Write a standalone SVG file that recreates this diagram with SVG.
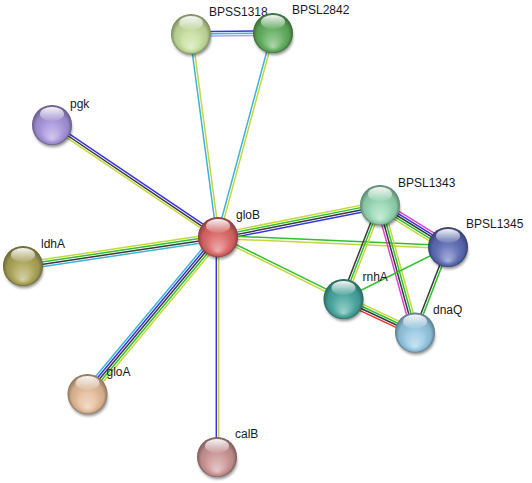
<svg xmlns="http://www.w3.org/2000/svg" width="532" height="483" viewBox="0 0 532 483">
<style>
.tm{stroke:#c5d83a}.nb{stroke:#2fbf2f}.cx{stroke:#3a3a3a}.db{stroke:#3cb4dc}.ex{stroke:#d846d8}.co{stroke:#3434e6}.fu{stroke:#e83434}.ho{stroke:#a8a8f4}
#edges line{stroke-width:1.5;fill:none}
.sh{fill:#000;opacity:.45;filter:url(#blur)}
.sd{fill:url(#shade)}
.hl{fill:url(#hlg)}
text{font-family:"Liberation Sans",Arial,sans-serif;font-size:12px;fill:#1a1a1a}
</style>
<defs>
<filter id="blur" x="-50%" y="-50%" width="200%" height="200%"><feGaussianBlur stdDeviation="1.8"/></filter>
<radialGradient id="shade" cx="50%" cy="50%" r="50%" fx="50%" fy="85%">
<stop offset="0" stop-color="#fff" stop-opacity="0.5"/>
<stop offset="0.45" stop-color="#fff" stop-opacity="0.12"/>
<stop offset="0.8" stop-color="#000" stop-opacity="0.08"/>
<stop offset="1" stop-color="#000" stop-opacity="0.38"/>
</radialGradient>
<linearGradient id="hlg" x1="0" y1="0" x2="0" y2="1">
<stop offset="0" stop-color="#fff" stop-opacity="0.95"/>
<stop offset="1" stop-color="#fff" stop-opacity="0.08"/>
</linearGradient>
</defs>
<g id="edges">
<g transform="translate(191,34) rotate(-0.7)"><line class="co" x1="0" y1="-2.3" x2="82" y2="-2.3"/><line class="db" x1="0" y1="0" x2="82" y2="0"/><line class="ho" x1="0" y1="2.3" x2="82" y2="2.3"/></g>
<g transform="translate(191,34) rotate(82.42)"><line class="db" x1="0" y1="1.2" x2="204.8" y2="1.2"/><line class="tm" x1="0" y1="-1.2" x2="204.8" y2="-1.2"/></g>
<g transform="translate(273,33) rotate(105.09)"><line class="db" x1="0" y1="1.2" x2="211.3" y2="1.2"/><line class="tm" x1="0" y1="-1.2" x2="211.3" y2="-1.2"/></g>
<g transform="translate(52,125) rotate(34)"><line class="co" x1="0" y1="-2.3" x2="200.3" y2="-2.3"/><line class="cx" x1="0" y1="0" x2="200.3" y2="0"/><line class="tm" x1="0" y1="2.3" x2="200.3" y2="2.3"/></g>
<g transform="translate(23,266) rotate(-8.46)"><line class="tm" x1="0" y1="-3.45" x2="197.1" y2="-3.45"/><line class="nb" x1="0" y1="-1.15" x2="197.1" y2="-1.15"/><line class="cx" x1="0" y1="1.15" x2="197.1" y2="1.15"/><line class="db" x1="0" y1="3.45" x2="197.1" y2="3.45"/></g>
<g transform="translate(87,394) rotate(-50.16)"><line class="db" x1="0" y1="-4.6" x2="204.5" y2="-4.6"/><line class="co" x1="0" y1="-2.3" x2="204.5" y2="-2.3"/><line class="cx" x1="0" y1="0" x2="204.5" y2="0"/><line class="nb" x1="0" y1="2.3" x2="204.5" y2="2.3"/><line class="tm" x1="0" y1="4.6" x2="204.5" y2="4.6"/></g>
<g><line class="co" x1="216.3" y1="237" x2="216.3" y2="457"/><line class="tm" x1="218.7" y1="237" x2="218.7" y2="457"/></g>
<g transform="translate(218,237) rotate(-11.17)"><line class="tm" x1="0" y1="-3.45" x2="165.1" y2="-3.45"/><line class="nb" x1="0" y1="-1.15" x2="165.1" y2="-1.15"/><line class="cx" x1="0" y1="1.15" x2="165.1" y2="1.15"/><line class="co" x1="0" y1="3.45" x2="165.1" y2="3.45"/></g>
<g transform="translate(218,237) rotate(2.49)"><line class="nb" x1="0" y1="-1.5" x2="230.2" y2="-1.5"/><line class="tm" x1="0" y1="1.5" x2="230.2" y2="1.5"/></g>
<g transform="translate(218,237) rotate(26.29)"><line class="nb" x1="0" y1="-1.2" x2="140" y2="-1.2"/><line class="tm" x1="0" y1="1.2" x2="140" y2="1.2"/></g>
<g transform="translate(380,205) rotate(31.7)"><line class="ex" x1="0" y1="-4.6" x2="79.9" y2="-4.6"/><line class="co" x1="0" y1="-2.3" x2="79.9" y2="-2.3"/><line class="cx" x1="0" y1="0" x2="79.9" y2="0"/><line class="nb" x1="0" y1="2.3" x2="79.9" y2="2.3"/><line class="tm" x1="0" y1="4.6" x2="79.9" y2="4.6"/></g>
<g transform="translate(380,205) rotate(111.22)"><line class="cx" x1="0" y1="2.3" x2="100.8" y2="2.3"/><line class="nb" x1="0" y1="0" x2="100.8" y2="0"/><line class="tm" x1="0" y1="-2.3" x2="100.8" y2="-2.3"/></g>
<g transform="translate(380,205) rotate(74.65)"><line class="ex" x1="0" y1="3.45" x2="132.2" y2="3.45"/><line class="cx" x1="0" y1="1.15" x2="132.2" y2="1.15"/><line class="nb" x1="0" y1="-1.15" x2="132.2" y2="-1.15"/><line class="tm" x1="0" y1="-3.45" x2="132.2" y2="-3.45"/></g>
<g><line class="nb" x1="448" y1="247" x2="343.5" y2="299"/></g>
<g transform="translate(448,247) rotate(111.1)"><line class="cx" x1="0" y1="1.2" x2="91.6" y2="1.2"/><line class="nb" x1="0" y1="-1.2" x2="91.6" y2="-1.2"/></g>
<g transform="translate(343.5,299) rotate(25.1)"><line class="fu" x1="0" y1="3.45" x2="79" y2="3.45"/><line class="cx" x1="0" y1="1.15" x2="79" y2="1.15"/><line class="nb" x1="0" y1="-1.15" x2="79" y2="-1.15"/><line class="tm" x1="0" y1="-3.45" x2="79" y2="-3.45"/></g>
</g>
<g id="BPSS1318" transform="translate(191,34)"><ellipse class="sh" cx="1" cy="4" rx="19" ry="18"/><circle r="20" fill="#c4de9c"/><circle r="20" class="sd"/><ellipse class="hl" cx="0" cy="-11" rx="12" ry="7"/><text x="18" y="-18">BPSS1318</text></g>
<g id="BPSL2842" transform="translate(273,33)"><ellipse class="sh" cx="1" cy="4" rx="19" ry="18"/><circle r="20" fill="#5fae5c"/><circle r="20" class="sd"/><ellipse class="hl" cx="0" cy="-11" rx="12" ry="7"/><text x="19" y="-19">BPSL2842</text></g>
<g id="pgk" transform="translate(52,125)"><ellipse class="sh" cx="1" cy="4" rx="19" ry="18"/><circle r="20" fill="#a694dc"/><circle r="20" class="sd"/><ellipse class="hl" cx="0" cy="-11" rx="12" ry="7"/><text x="18" y="-17">pgk</text></g>
<g id="ldhA" transform="translate(23,266)"><ellipse class="sh" cx="1" cy="4" rx="19" ry="18"/><circle r="20" fill="#aca456"/><circle r="20" class="sd"/><ellipse class="hl" cx="0" cy="-11" rx="12" ry="7"/><text x="18" y="-18">ldhA</text></g>
<g id="gloB" transform="translate(218,237)"><ellipse class="sh" cx="1" cy="4" rx="19" ry="18"/><circle r="20" fill="#dc6464"/><circle r="20" class="sd"/><ellipse class="hl" cx="0" cy="-11" rx="12" ry="7"/><text x="18" y="-18">gloB</text></g>
<g id="BPSL1343" transform="translate(380,205)"><ellipse class="sh" cx="1" cy="4" rx="19" ry="18"/><circle r="20" fill="#94d8b2"/><circle r="20" class="sd"/><ellipse class="hl" cx="0" cy="-11" rx="12" ry="7"/><text x="18" y="-18">BPSL1343</text></g>
<g id="BPSL1345" transform="translate(448,247)"><ellipse class="sh" cx="1" cy="4" rx="19" ry="18"/><circle r="20" fill="#5a6ab4"/><circle r="20" class="sd"/><ellipse class="hl" cx="0" cy="-11" rx="12" ry="7"/><text x="18" y="-19">BPSL1345</text></g>
<g id="rnhA" transform="translate(343.5,299)"><ellipse class="sh" cx="1" cy="4" rx="19" ry="18"/><circle r="20" fill="#45a59c"/><circle r="20" class="sd"/><ellipse class="hl" cx="0" cy="-11" rx="12" ry="7"/><text x="19" y="-18">rnhA</text></g>
<g id="dnaQ" transform="translate(415,332.5)"><ellipse class="sh" cx="1" cy="4" rx="19" ry="18"/><circle r="20" fill="#94c8e4"/><circle r="20" class="sd"/><ellipse class="hl" cx="0" cy="-11" rx="12" ry="7"/><text x="18" y="-19">dnaQ</text></g>
<g id="gloA" transform="translate(87.5,394)"><ellipse class="sh" cx="1" cy="4" rx="19" ry="18"/><circle r="20" fill="#e4bc98"/><circle r="20" class="sd"/><ellipse class="hl" cx="0" cy="-11" rx="12" ry="7"/><text x="19" y="-18">gloA</text></g>
<g id="calB" transform="translate(217,457)"><ellipse class="sh" cx="1" cy="4" rx="19" ry="18"/><circle r="20" fill="#cc9494"/><circle r="20" class="sd"/><ellipse class="hl" cx="0" cy="-11" rx="12" ry="7"/><text x="18" y="-19">calB</text></g>
</svg>
